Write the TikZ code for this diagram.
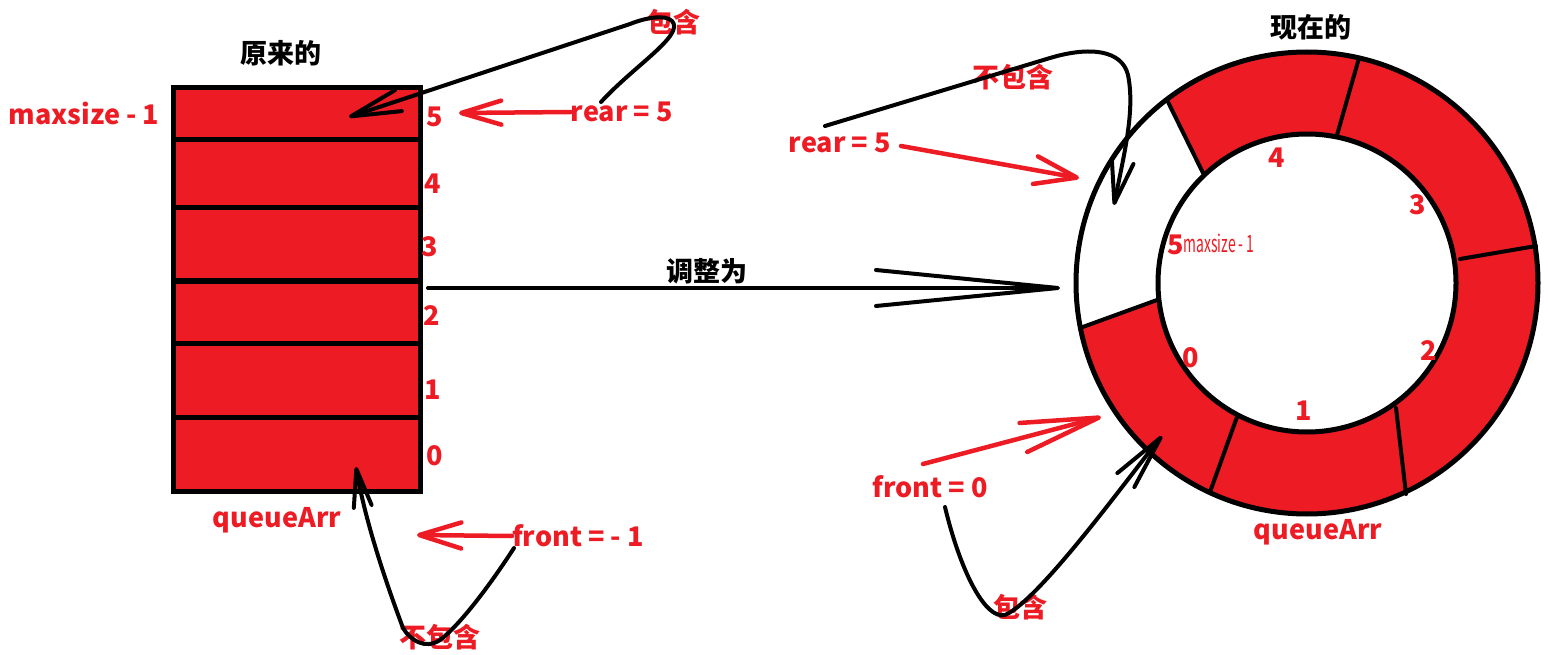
\documentclass[tikz,border=0pt]{standalone}
\usepackage{fontspec}
\usepackage{graphicx}
\setmainfont{Noto Sans CJK SC}
\usetikzlibrary{arrows.meta}
\definecolor{pred}{HTML}{ED1C24}
\tikzset{
  lbl/.style={text=pred, font=\bfseries\fontsize{27}{30}\selectfont, inner sep=0pt},
  blk/.style={text=black, font=\bfseries\fontsize{27}{30}\selectfont, inner sep=0pt},
  hand/.style={line width=4pt, line cap=round, line join=round},
  redline/.style={hand, draw=pred, line width=4.5pt},
  boxline/.style={line width=5pt},
}
\begin{document}
\begin{tikzpicture}[x=1pt,y=-1pt]
\useasboundingbox (0,0) rectangle (1548,655);

% ---------- left array ----------
\filldraw[fill=pred, draw=black, boxline] (173,88) rectangle (420,491);
\foreach \yy in {140,208,281,343,417} \draw[boxline] (173,\yy) -- (422,\yy);
\coordinate (cell5) at (349,117);
\coordinate (cell0) at (356,467);
\coordinate (adjstart) at (428,288);

\node[blk] (orig) at (281,53) {原来的};
\node[lbl] (maxl) at (84,113) {maxsize - 1};
\node[lbl] (i5) at (435,117) {5};
\node[lbl] (i4) at (433,184) {4};
\node[lbl] (i3) at (430,247) {3};
\node[lbl] (i2) at (432,316) {2};
\node[lbl] (i1) at (433,390) {1};
\node[lbl] (i0) at (435,456) {0};
\node[lbl] (rear1) at (622,112) {rear = 5};
\node[lbl] (inc1) at (673,22) {包含};
\node[lbl] (qa1) at (277,520) {queueArr};
\node[lbl] (front1) at (578,536) {front = - 1};
\node[lbl] (ninc1) at (440,637) {不包含};
\node[blk] (adj) at (707,271) {调整为};

% red arrows left
\coordinate (r1tip) at (459,113);
\draw[redline, -{Straight Barb[round,length=40pt,width=24pt]}] (rear1.west) -- (r1tip);
\coordinate (f1tip) at (417,535);
\draw[redline, -{Straight Barb[round,length=42pt,width=26pt]}] (front1.west) -- (f1tip);

% black curves left
\draw[hand, -{Straight Barb[round,length=50pt,width=22pt]}]
  (601,102) .. controls (635,65) and (685,35) .. (672,21)
  .. controls (665,14) and (645,18) .. (630,24) -- (cell5);
\draw[hand, -{Straight Barb[round,length=38pt,width=18pt]}]
  (514,548) .. controls (490,585) and (460,625) .. (440,640)
  .. controls (425,650) and (410,640) .. (403,628)
  .. controls (385,580) and (365,520) .. (cell0);

% ---------- ring ----------
\coordinate (rc) at (1307,283);
\coordinate (adjend) at (1060,288);
\draw[hand, -{Straight Barb[round,length=182pt,width=36pt]}] (adjstart) -- (adjend);

\fill[pred, even odd rule] (rc) circle[radius=231] (rc) circle[radius=149];
\begin{scope}
  \clip (rc) circle[radius=231];
  \fill[white] (1157,300) -- (1045,340) -- (980,60) -- (1133,30) -- (1203,173) -- (rc) -- cycle;
\end{scope}
\draw[boxline] (rc) circle[radius=231];
\draw[boxline] (rc) circle[radius=149];
\draw[hand] (1168,102) -- (1203,173);
\draw[hand] (1359,58) -- (1337,135);
\draw[hand] (1536,246) -- (1460,259);
\draw[hand] (1396,408) -- (1406,494);
\draw[hand] (1237,417) -- (1210,492);
\draw[hand] (1157,300) -- (1080,328);

\node[blk] (now) at (1311,27) {现在的};
\node[lbl] (ninc2) at (1013,77) {不包含};
\node[lbl] (rear2) at (840,143) {rear = 5};
\node[lbl] (r4) at (1277,158) {4};
\node[lbl] (r3) at (1418,205) {3};
\node[lbl] (r5) at (1176,245) {5};
\node[text=pred, inner sep=0pt, font=\fontsize{24}{26}\selectfont] (rmax) at (1219,243) {\scalebox{0.58}[1]{maxsize - 1}};
\node[lbl] (r0) at (1191,358) {0};
\node[lbl] (r2) at (1429,351) {2};
\node[lbl] (r1) at (1304,411) {1};
\node[lbl] (qa2) at (1318,532) {queueArr};
\node[lbl] (front2) at (930,487) {front = 0};
\node[lbl] (inc2) at (1020,607) {包含};

\coordinate (ringtop) at (1079,178);
\coordinate (ringbot) at (1101,417);
\coordinate (white5) at (1114,205);
\coordinate (seg0) at (1162,436);
\draw[redline, -{Straight Barb[round,length=42pt,width=28pt]}] (901,146) -- (ringtop);
\draw[redline, -{Straight Barb[round,length=78pt,width=30pt]}] (923,464) -- (ringbot);

\draw[hand, -{Straight Barb[round,length=42pt,width=22pt]}]
  (825,126) -- (1050,58) .. controls (1090,46) and (1122,50) .. (1128,75)
  .. controls (1135,110) and (1125,150) .. (white5);
\draw[hand, -{Straight Barb[round,length=55pt,width=22pt]}]
  (945,507) .. controls (960,570) and (985,620) .. (1005,615)
  .. controls (1040,600) and (1130,475) .. (seg0);
\end{tikzpicture}
\end{document}
